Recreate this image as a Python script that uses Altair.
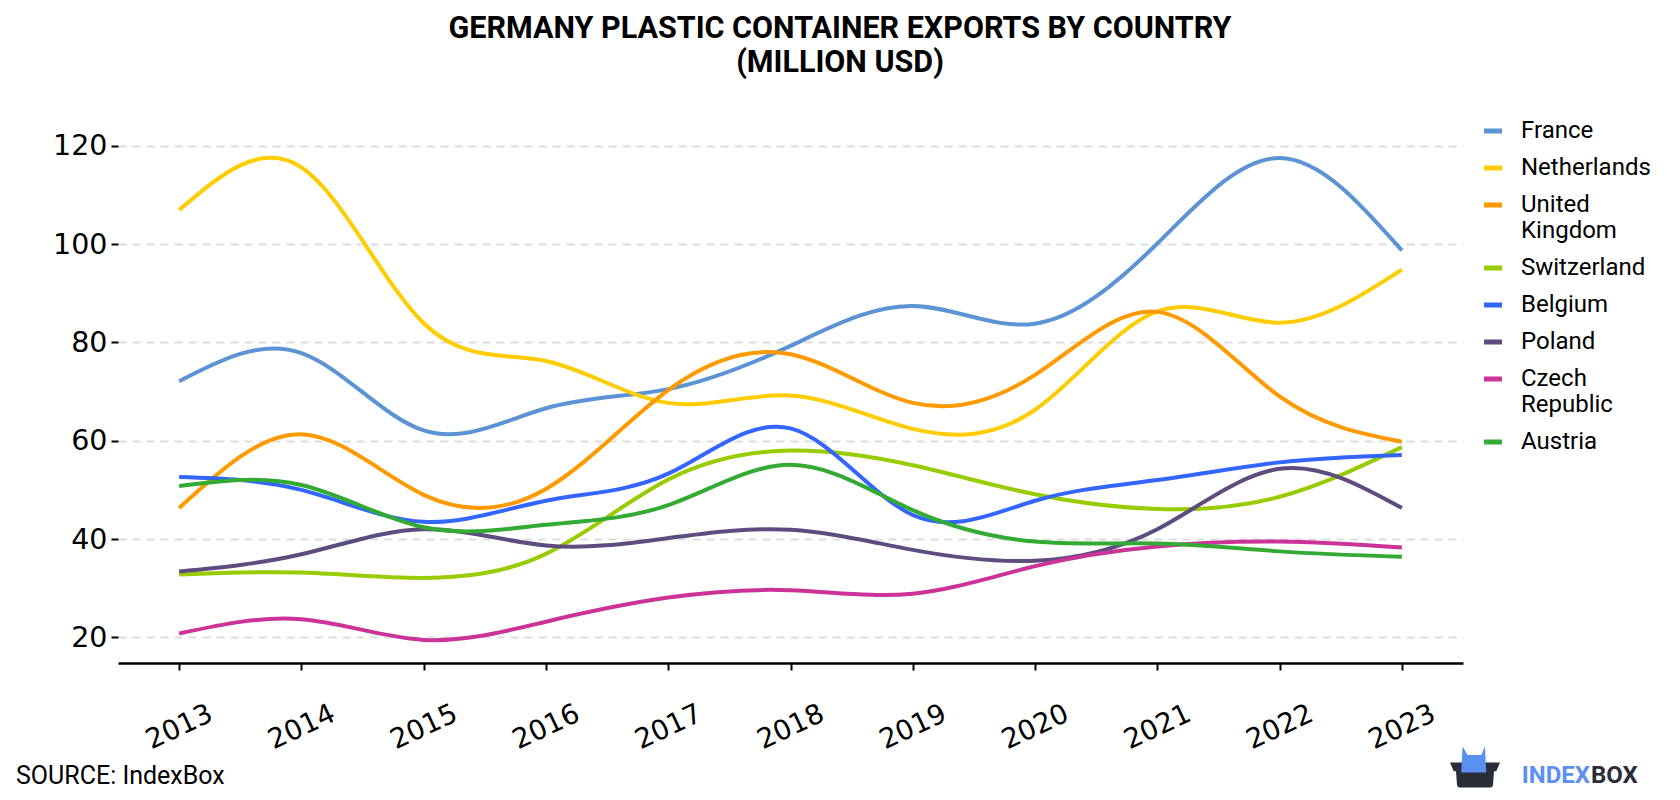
import altair as alt
import pandas as pd

years = [2013, 2014, 2015, 2016, 2017, 2018, 2019, 2020, 2021, 2022, 2023]
countries = ["France", "Netherlands", "United Kingdom", "Switzerland", "Belgium",
             "Poland", "Czech Republic", "Austria"]
colors = ["#5B93D5", "#FFCC00", "#FF9900", "#99CC00", "#3366FF", "#5E4C7F", "#CC3399", "#33AA33"]

france = [72.1, 77.8, 62.1, 66.6, 70.5, 79.3, 87.4, 83.8, 100.1, 117.5, 98.7]
netherlands = [106.9, 115.6, 83.9, 76.2, 67.7, 69.2, 62.4, 66.3, 86.3, 84.0, 94.8]
united_kingdom = [46.3, 61.3, 49.0, 50.2, 70.3, 77.6, 67.7, 73.4, 86.2, 69.0, 59.8]
switzerland = [32.8, 33.2, 32.1, 37.0, 52.1, 58.0, 55.0, 49.1, 46.1, 48.6, 58.7]
belgium = [52.6, 50.0, 43.5, 47.8, 53.3, 62.5, 44.9, 47.8, 52.0, 55.6, 57.1]
poland = [33.4, 36.9, 42.0, 38.7, 40.2, 41.9, 37.8, 35.6, 42.0, 54.3, 46.3]
czech_republic = [20.8, 23.7, 19.5, 23.2, 28.1, 29.6, 28.9, 34.5, 38.5, 39.5, 38.3]
austria = [50.8, 51.0, 42.4, 42.9, 46.9, 55.1, 45.9, 39.5, 39.1, 37.5, 36.4]

y_ticks = [20, 40, 60, 80, 100, 120]
title_lines = ["GERMANY PLASTIC CONTAINER EXPORTS BY COUNTRY", "(MILLION USD)"]
source_text = "SOURCE: IndexBox"
logo_a = "INDEX"
logo_b = "BOX"

series = [france, netherlands, united_kingdom, switzerland, belgium, poland,
          czech_republic, austria]
rows = []
for name, vals in zip(countries, series):
    for yr, v in zip(years, vals):
        rows.append({"year": yr, "value": v, "country": name})
df = pd.DataFrame(rows)

# layout (pixels)
PL, PT = 118, 126
W, H = 1345, 537
FONT = "Roboto"
TICKFONT = "DejaVu Sans"

lines = alt.Chart(df).mark_line(interpolate="natural", strokeWidth=4).encode(
    x=alt.X("year:Q",
            scale=alt.Scale(domain=[2012.5, 2023.5], nice=False, zero=False),
            axis=alt.Axis(values=years, format="d", title=None, grid=False,
                          domain=True, domainColor="#000000", domainWidth=2.5,
                          ticks=True, tickColor="#000000", tickWidth=2, tickSize=7,
                          labelAngle=335, labelAlign="center", labelBaseline="middle",
                          labelPadding=57, labelFont=TICKFONT, labelFontSize=27.5,
                          labelColor="#000000")),
    y=alt.Y("value:Q",
            scale=alt.Scale(domain=[14.8, 124], nice=False, zero=False),
            axis=alt.Axis(values=y_ticks, title=None, grid=True, gridColor="#DDDDDD",
                          gridDash=[8, 6], gridWidth=2, domain=False,
                          ticks=True, tickColor="#000000", tickWidth=2, tickSize=7,
                          labelPadding=4, labelFont=TICKFONT, labelFontSize=28.5,
                          labelColor="#000000")),
    color=alt.Color("country:N",
                    scale=alt.Scale(domain=countries, range=colors),
                    legend=alt.Legend(title=None, orient="none", legendX=1363, legendY=-7,
                                      symbolType="stroke", symbolStrokeWidth=5,
                                      symbolSize=324, labelFont=FONT, labelFontSize=24,
                                      labelColor="#000000", labelOffset=16,
                                      rowPadding=13, padding=0,
                                      labelExpr="split(datum.label, ' ')")),
)

def text_layer(txt, x, y, size, weight="normal", color="#000000", align="center"):
    return alt.Chart(pd.DataFrame({"t": [txt]})).mark_text(
        font=FONT, fontSize=size, fontWeight=weight, color=color, align=align,
        baseline="middle").encode(text="t:N", x=alt.value(x), y=alt.value(y))

title1 = text_layer(title_lines[0], 840 - PL, 29 - PT, 30.5, "bold")
title2 = text_layer(title_lines[1], 840 - PL, 63 - PT, 30.5, "bold")
source = text_layer(source_text, 16 - PL, 776 - PT, 25, align="left")
logo1 = text_layer(logo_a, 1590 - PL, 776 - PT, 24, "bold", "#5B8FF0", "right")
logo2 = text_layer(logo_b, 1591 - PL, 776 - PT, 24, "bold", "#2A2C38", "left")

body_path = ("M-1,-0.3 L1,-0.3 L0.85,0.05 L0.76,0.05 L0.72,0.6 Q0.7,0.7 0.6,0.7 "
             "L-0.6,0.7 Q-0.7,0.7 -0.72,0.6 L-0.76,0.05 L-0.85,0.05 Z")
ears_path = "M-0.55,0.1 L-0.5,-0.95 L-0.3,-0.6 L0.25,-0.6 L0.4,-0.95 L0.45,0.1 Z"
one = pd.DataFrame({"k": [0]})
body = alt.Chart(one).mark_point(shape=body_path, filled=True, fill="#2A2C38",
                                 strokeWidth=0, size=2500, opacity=1).encode(
    x=alt.value(1475 - PL), y=alt.value(770 - PT))
ears = alt.Chart(one).mark_point(shape=ears_path, filled=True, fill="#5B8FF0",
                                 strokeWidth=0, size=2500, opacity=1).encode(
    x=alt.value(1475 - PL), y=alt.value(770 - PT))

chart = alt.layer(lines, title1, title2, source, body, ears, logo1, logo2).properties(
    width=W, height=H,
    autosize=alt.AutoSizeParams(type="none"),
    padding={"left": PL, "top": PT, "right": 1680 - PL - W, "bottom": 800 - PT - H},
    background="#FFFFFF",
).configure_view(stroke=None)

chart.save("out.html", embed_options={"renderer": "svg", "actions": False})
